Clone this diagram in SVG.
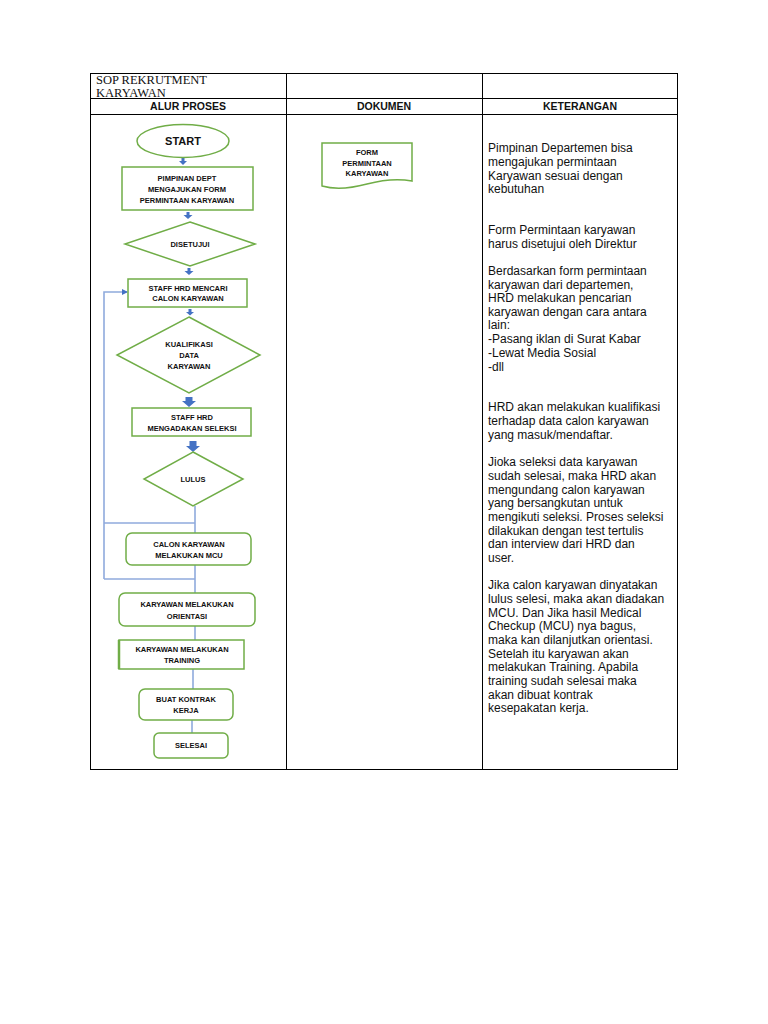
<svg xmlns="http://www.w3.org/2000/svg" width="768" height="1024" viewBox="0 0 768 1024">
<style>
.tbl{fill:none;stroke:#000;stroke-width:1}
.nd{fill:#fff;stroke:#70AD47;stroke-width:1.5}
.lbl{font-family:"Liberation Sans",Arial,sans-serif;font-weight:bold;font-size:7.5px;fill:#111;text-anchor:middle}
.hdr{font-family:"Liberation Sans",Arial,sans-serif;font-weight:bold;font-size:10.5px;fill:#111;text-anchor:middle}
.ttl{font-family:"Liberation Serif","Times New Roman",serif;font-size:12.5px;fill:#111}
.ket{font-family:"Liberation Sans",Arial,sans-serif;font-size:12px;fill:#111}
.cn{fill:none;stroke:#8FAADC;stroke-width:1.6}
.ba{fill:#4472C4}
</style>
<defs>
<marker id="ah" markerWidth="6" markerHeight="6" refX="5" refY="3" orient="auto" markerUnits="userSpaceOnUse"><path d="M0,0 L6,3 L0,6 Z" fill="#4472C4"/></marker>
</defs>
<rect width="768" height="1024" fill="#fff"/>
<g id="table">
<rect class="tbl" x="90.5" y="73.5" width="587" height="696"/>
<line class="tbl" x1="286.5" y1="73.5" x2="286.5" y2="769.5"/>
<line class="tbl" x1="482.5" y1="73.5" x2="482.5" y2="769.5"/>
<line class="tbl" x1="90.5" y1="98.5" x2="677.5" y2="98.5"/>
<line class="tbl" x1="90.5" y1="114.5" x2="677.5" y2="114.5"/>
<text class="ttl" x="96" y="83.5">SOP REKRUTMENT</text>
<text class="ttl" x="96" y="96.5">KARYAWAN</text>
<text class="hdr" x="188" y="110">ALUR PROSES</text>
<text class="hdr" x="384" y="110">DOKUMEN</text>
<text class="hdr" x="580" y="110">KETERANGAN</text>
</g>
<g id="connectors">
<polyline class="cn" points="104,579 104,292 127,292" marker-end="url(#ah)"/>
<line class="cn" x1="104" y1="523" x2="195" y2="523"/>
<line class="cn" x1="195" y1="506" x2="195" y2="533"/>
<line class="cn" x1="104" y1="579" x2="195" y2="579"/>
<line class="cn" x1="195" y1="565" x2="195" y2="593"/>
<line class="cn" x1="195" y1="626" x2="195" y2="640"/>
<line class="cn" x1="193" y1="669" x2="193" y2="689"/>
<line class="cn" x1="192" y1="720" x2="192" y2="733"/>
<path class="ba" d="M181.5,158 h3 v3 h2.5 l-4,4 l-4,-4 h2.5 z"/>
<path class="ba" d="M186.5,212 h3 v3 h3 l-4.5,4 l-4.5,-4 h3 z"/>
<path class="ba" d="M187.5,268 h3 v3 h3 l-4.5,4 l-4.5,-4 h3 z"/>
<path class="ba" d="M188.5,309 h3 v3 h2.5 l-4,3.5 l-4,-3.5 h2.5 z"/>
<path class="ba" d="M185.5,397 h7 v4 h3.5 l-7,6 l-7,-6 h3.5 z"/>
<path class="ba" d="M189.5,441 h7 v5 h3.5 l-7,6 l-7,-6 h3.5 z"/>
</g>
<g id="start">
<ellipse class="nd" cx="183" cy="141" rx="46" ry="16.5"/>
<text class="hdr" x="183" y="145" style="font-size:11px">START</text>
</g>
<g id="pimpinan">
<rect class="nd" x="122" y="167" width="131" height="43"/>
<text class="lbl" x="187" y="181">PIMPINAN DEPT</text>
<text class="lbl" x="187" y="192">MENGAJUKAN FORM</text>
<text class="lbl" x="187" y="203">PERMINTAAN KARYAWAN</text>
</g>
<g id="disetujui">
<polygon class="nd" points="190,222 255,244 190,266 125,244"/>
<text class="lbl" x="190" y="247">DISETUJUI</text>
</g>
<g id="mencari">
<rect class="nd" x="128" y="279" width="119" height="28"/>
<text class="lbl" x="188" y="291">STAFF HRD MENCARI</text>
<text class="lbl" x="188" y="301">CALON KARYAWAN</text>
</g>
<g id="kualifikasi">
<polygon class="nd" points="189,317 260,355 189,393 117,355"/>
<text class="lbl" x="189" y="347">KUALIFIKASI</text>
<text class="lbl" x="189" y="358">DATA</text>
<text class="lbl" x="189" y="369">KARYAWAN</text>
</g>
<g id="seleksi">
<rect class="nd" x="132" y="408" width="119" height="28"/>
<text class="lbl" x="192" y="420">STAFF HRD</text>
<text class="lbl" x="192" y="431">MENGADAKAN SELEKSI</text>
</g>
<g id="lulus">
<polygon class="nd" points="193,452 243,479 193,506 144,479"/>
<text class="lbl" x="193" y="482">LULUS</text>
</g>
<g id="mcu">
<rect class="nd" x="126" y="533" width="125" height="32" rx="6"/>
<text class="lbl" x="189" y="547">CALON KARYAWAN</text>
<text class="lbl" x="189" y="558">MELAKUKAN MCU</text>
</g>
<g id="orientasi">
<rect class="nd" x="119" y="593" width="136" height="33" rx="6"/>
<text class="lbl" x="187" y="607">KARYAWAN MELAKUKAN</text>
<text class="lbl" x="187" y="619">ORIENTASI</text>
</g>
<g id="training">
<rect class="nd" x="119" y="640" width="125" height="29"/>
<line x1="119" y1="640" x2="119" y2="669" stroke="#70AD47" stroke-width="2.5"/>
<text class="lbl" x="182" y="652">KARYAWAN MELAKUKAN</text>
<text class="lbl" x="182" y="663">TRAINING</text>
</g>
<g id="kontrak">
<rect class="nd" x="139" y="689" width="94" height="31" rx="6"/>
<text class="lbl" x="186" y="702">BUAT KONTRAK</text>
<text class="lbl" x="186" y="713">KERJA</text>
</g>
<g id="selesai">
<rect class="nd" x="154" y="733" width="74" height="25" rx="5"/>
<text class="lbl" x="191" y="748">SELESAI</text>
</g>
<g id="dokumen">
<path class="nd" d="M322,143 L412,143 L412,181 C396,178 382,180 367,184 C352,188 336,190 322,186 Z"/>
<text class="lbl" x="367" y="155">FORM</text>
<text class="lbl" x="367" y="166">PERMINTAAN</text>
<text class="lbl" x="367" y="176">KARYAWAN</text>
</g>
<g id="keterangan">
<text class="ket" x="488"><tspan x="488" y="152">Pimpinan Departemen bisa</tspan><tspan x="488" y="166">mengajukan permintaan</tspan><tspan x="488" y="180">Karyawan sesuai dengan</tspan><tspan x="488" y="193">kebutuhan</tspan></text>
<text class="ket" x="488"><tspan x="488" y="234">Form Permintaan karyawan</tspan><tspan x="488" y="248">harus disetujui oleh Direktur</tspan></text>
<text class="ket" x="488"><tspan x="488" y="275">Berdasarkan form permintaan</tspan><tspan x="488" y="289">karyawan dari departemen,</tspan><tspan x="488" y="302">HRD melakukan pencarian</tspan><tspan x="488" y="316">karyawan dengan cara antara</tspan><tspan x="488" y="329">lain:</tspan><tspan x="488" y="343">-Pasang iklan di Surat Kabar</tspan><tspan x="488" y="357">-Lewat Media Sosial</tspan><tspan x="488" y="371">-dll</tspan></text>
<text class="ket" x="488"><tspan x="488" y="411">HRD akan melakukan kualifikasi</tspan><tspan x="488" y="425">terhadap data calon karyawan</tspan><tspan x="488" y="439">yang masuk/mendaftar.</tspan></text>
<text class="ket" x="488"><tspan x="488" y="466">Jioka seleksi data karyawan</tspan><tspan x="488" y="480">sudah selesai, maka HRD akan</tspan><tspan x="488" y="494">mengundang calon karyawan</tspan><tspan x="488" y="507">yang bersangkutan untuk</tspan><tspan x="488" y="521">mengikuti seleksi. Proses seleksi</tspan><tspan x="488" y="535">dilakukan dengan test tertulis</tspan><tspan x="488" y="548">dan interview dari HRD dan</tspan><tspan x="488" y="562">user.</tspan></text>
<text class="ket" x="488"><tspan x="488" y="589">Jika calon karyawan dinyatakan</tspan><tspan x="488" y="603">lulus selesi, maka akan diadakan</tspan><tspan x="488" y="617">MCU. Dan Jika hasil Medical</tspan><tspan x="488" y="630">Checkup (MCU) nya bagus,</tspan><tspan x="488" y="644">maka kan dilanjutkan orientasi.</tspan><tspan x="488" y="658">Setelah itu karyawan akan</tspan><tspan x="488" y="671">melakukan Training. Apabila</tspan><tspan x="488" y="685">training sudah selesai maka</tspan><tspan x="488" y="699">akan dibuat kontrak</tspan><tspan x="488" y="712">kesepakatan kerja.</tspan></text>
</g>
</svg>
